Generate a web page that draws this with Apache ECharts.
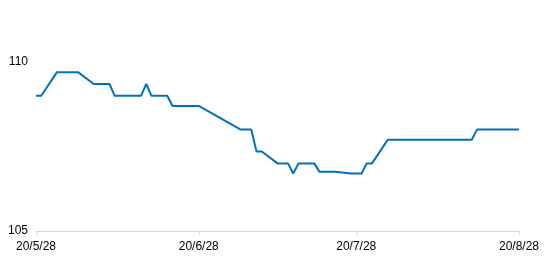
<!DOCTYPE html>
<html>
<head>
<meta charset="utf-8">
<script src="https://cdn.jsdelivr.net/npm/echarts@6/dist/echarts.min.js"></script>
<style>
html,body{margin:0;padding:0;background:#fff;}
#chart{width:554px;height:262px;}
</style>
</head>
<body>
<div id="chart"></div>
<script>
var dates = ['2020-05-28','2020-05-29','2020-06-01','2020-06-05','2020-06-08','2020-06-11','2020-06-12','2020-06-17','2020-06-18','2020-06-19','2020-06-22','2020-06-23','2020-06-28','2020-07-06','2020-07-08','2020-07-09','2020-07-10','2020-07-13','2020-07-15','2020-07-16','2020-07-17','2020-07-20','2020-07-21','2020-07-24','2020-07-27','2020-07-29','2020-07-30','2020-07-31','2020-08-03','2020-08-19','2020-08-20','2020-08-28'];
var values = [109.0,109.0,109.7,109.7,109.35,109.35,109.0,109.0,109.35,109.0,109.0,108.7,108.7,108.0,108.0,107.35,107.35,107.0,107.0,106.7,107.0,107.0,106.75,106.75,106.7,106.7,107.0,107.0,107.7,107.7,108.0,108.0];
var tickLabels = ['2020-05-28','2020-06-28','2020-07-28','2020-08-28'];

function ts(s){ var p = s.split('-'); return Date.UTC(+p[0], +p[1]-1, +p[2]); }
var tickTs = tickLabels.map(ts);
var data = dates.map(function(d,i){ return [ts(d), values[i]]; });

var chart = echarts.init(document.getElementById('chart'));
chart.setOption({
  animation: false,
  grid: {left: 36, right: 35, top: 62, bottom: 31},
  xAxis: {
    type: 'value',
    min: tickTs[0],
    max: tickTs[tickTs.length-1],
    axisLine: {lineStyle: {color: '#D9D9D9', width: 1}},
    axisTick: {show: true, length: 4, lineStyle: {color: '#D9D9D9'}, customValues: tickTs},
    splitLine: {show: false},
    axisLabel: {
      customValues: tickTs,
      showMinLabel: true, showMaxLabel: true,
      color: '#000', fontSize: 12, fontFamily: 'Liberation Sans, Arial, sans-serif', margin: 10,
      formatter: function(v){ var d = new Date(v); return String(d.getUTCFullYear()).slice(2) + '/' + (d.getUTCMonth()+1) + '/' + d.getUTCDate(); }
    }
  },
  yAxis: {
    type: 'value',
    min: 105, max: 110, interval: 5,
    axisLine: {show: false},
    axisTick: {show: false},
    splitLine: {show: false},
    axisLabel: {color: '#000', fontSize: 12, fontFamily: 'Liberation Sans, Arial, sans-serif', margin: 8}
  },
  series: [{
    type: 'line',
    data: data,
    showSymbol: false,
    lineStyle: {color: '#0070C0', width: 2},
    itemStyle: {color: '#0070C0'}
  }]
});
</script>
</body>
</html>
